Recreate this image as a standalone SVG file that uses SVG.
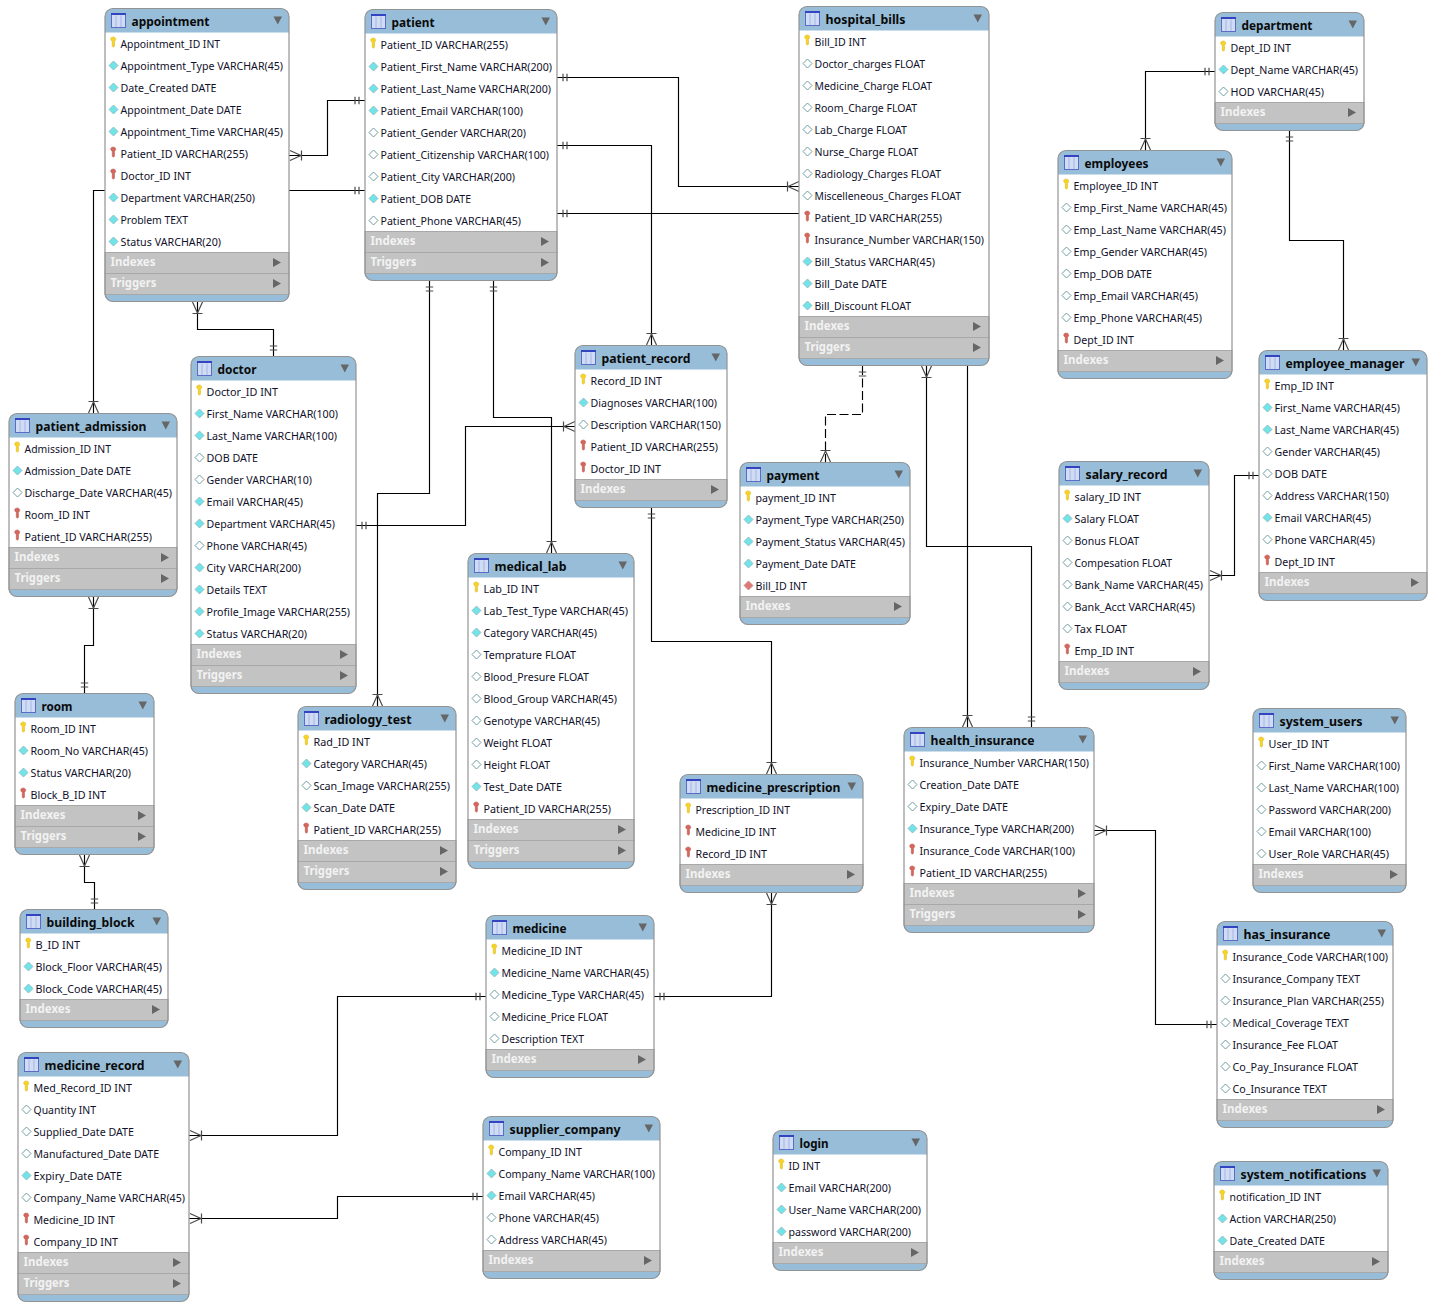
<svg xmlns="http://www.w3.org/2000/svg" width="1439" height="1315" viewBox="0 0 1439 1315">
<style>
text{font-family:"Noto Sans","Liberation Sans",sans-serif;transform:translate(0,-1px)}
.o{fill:#97bdd8;stroke:none}
.w{fill:#fff}
.s{fill:#c3c3c3;stroke:#a8a8a8;stroke-width:1}
.b{fill:none;stroke:#939393;stroke-width:1.2}
.t{font-size:13px;font-weight:700;fill:#0a0a0a}
.r{font-size:11px;fill:#10102a}
.x{font-size:12px;font-weight:700;fill:#f2f2f2}
.l{fill:none;stroke:#000;stroke-width:1.15}
.d{stroke-dasharray:9 3.5}
.m{fill:none;stroke:#4a4a4a;stroke-width:1.2}
</style>
<defs>
<g id="k"><path transform="scale(.95,.85)" d="M-2.500-4.500a2.800 2.800 0 0 1 5.400 0c0 1.800-.9 2.600-1.300 3.100V4.500L.3 5.500-.8 4.500V-1.400C-1.400-2-2.500-2.800-2.500-4.500Z" fill="#f6d426" stroke="#d9ae10" stroke-width=".5"/></g>
<g id="f"><path transform="scale(.95,.85)" d="M-2.500-4.500a2.800 2.800 0 0 1 5.400 0c0 1.800-.9 2.600-1.300 3.100V4.500L.3 5.500-.8 4.500V-1.400C-1.400-2-2.500-2.800-2.500-4.500Z" fill="#d4665c" stroke="#b5524a" stroke-width=".5"/></g>
<path id="c" d="M0-4.500 4.500 0 0 4.500-4.500 0Z" fill="#70e4e6" stroke="#8fb3c0" stroke-width=".8"/>
<path id="h" d="M0-4.500 4.500 0 0 4.500-4.500 0Z" fill="#fff" stroke="#6f9ea3" stroke-width="1"/>
<path id="e" d="M0-4.500 4.500 0 0 4.500-4.500 0Z" fill="#de7a74" stroke="#b98a88" stroke-width=".8"/>
<g id="i"><rect x="6.500" y="5.500" width="14" height="13.500" fill="#cfdcf3" stroke="#5a6cc8"/><rect x="6" y="4.500" width="15" height="2" fill="#3444c0"/><path d="M11 7V18.500M16 7V18.500" stroke="#a4b4e4"/></g>
<path id="da" d="M-15.500 8H-7L-11.200 16Z" fill="#666"/>
<path id="ra" d="M-16-4.500-8 0-16 4.500Z" fill="#666"/>
<path id="cr" d="M0-5 11 0M0 5 11 0M11.500-5V5" class="m"/>
<path id="ii" d="M6-3.700V3.700M10-3.700V3.700" class="m"/>
</defs>

<g id="connectors">
<path class="l" d="M289 155.500H327.500V100.500H365"/><use href="#cr" transform="translate(290,155.500)"/><use href="#ii" transform="translate(365,100.500) rotate(180)"/>
<path class="l" d="M365 190.500H93.500V413"/><use href="#ii" transform="translate(365,190.500) rotate(180)"/><use href="#cr" transform="translate(93.500,413) rotate(-90)"/>
<path class="l" d="M197.500 302V329.500H273.500V356"/><use href="#cr" transform="translate(197.500,302) rotate(90)"/><use href="#ii" transform="translate(273.500,356) rotate(-90)"/>
<path class="l" d="M557 77.500H678.500V186.500H799"/><use href="#ii" transform="translate(557,77.500)"/><use href="#cr" transform="translate(799,186.500) rotate(180)"/>
<path class="l" d="M557 145.500H651.500V345"/><use href="#ii" transform="translate(557,145.500)"/><use href="#cr" transform="translate(651.500,345) rotate(-90)"/>
<path class="l" d="M557 213.500H967.500V727"/><use href="#ii" transform="translate(557,213.500)"/><use href="#cr" transform="translate(967.500,727) rotate(-90)"/>
<path class="l" d="M926.500 366V546.500H1031.500V727"/><use href="#cr" transform="translate(926.500,366) rotate(90)"/><use href="#ii" transform="translate(1031.500,727) rotate(-90)"/>
<path class="l" d="M429.500 281V493.500H377.500V706"/><use href="#ii" transform="translate(429.500,281) rotate(90)"/><use href="#cr" transform="translate(377.500,706) rotate(-90)"/>
<path class="l" d="M493.500 281V417.500H551.500V553"/><use href="#ii" transform="translate(493.500,281) rotate(90)"/><use href="#cr" transform="translate(551.500,553) rotate(-90)"/>
<path class="l" d="M356 525.500H465.500V426.500H575"/><use href="#ii" transform="translate(356,525.500)"/><use href="#cr" transform="translate(575,426.500) rotate(180)"/>
<path class="l d" d="M862.500 366V414.500H825.500V462"/><use href="#ii" transform="translate(862.500,366) rotate(90)"/><use href="#cr" transform="translate(825.500,462) rotate(-90)"/>
<path class="l" d="M1215 71.500H1145.500V150"/><use href="#ii" transform="translate(1215,71.500) rotate(180)"/><use href="#cr" transform="translate(1145.500,150) rotate(-90)"/>
<path class="l" d="M1289.500 131V240.500H1343.500V350"/><use href="#ii" transform="translate(1289.500,131) rotate(90)"/><use href="#cr" transform="translate(1343.500,350) rotate(-90)"/>
<path class="l" d="M1259 475.500H1234.500V575.500H1209"/><use href="#ii" transform="translate(1259,475.500) rotate(180)"/><use href="#cr" transform="translate(1210,575.500)"/>
<path class="l" d="M93.500 597V645.500H84.500V693"/><use href="#cr" transform="translate(93.500,597) rotate(90)"/><use href="#ii" transform="translate(84.500,693) rotate(-90)"/>
<path class="l" d="M84.500 855V882.500H94.500V909"/><use href="#cr" transform="translate(84.500,855) rotate(90)"/><use href="#ii" transform="translate(94.500,909) rotate(-90)"/>
<path class="l" d="M651.500 508V641.500H771.500V774"/><use href="#ii" transform="translate(651.500,508) rotate(90)"/><use href="#cr" transform="translate(771.500,774) rotate(-90)"/>
<path class="l" d="M771.500 893V996.500H654"/><use href="#cr" transform="translate(771.500,893) rotate(90)"/><use href="#ii" transform="translate(654,996.500)"/>
<path class="l" d="M486 996.500H337.500V1135.500H189"/><use href="#ii" transform="translate(486,996.500) rotate(180)"/><use href="#cr" transform="translate(190,1135.500)"/>
<path class="l" d="M483 1196.500H337.500V1218.500H189"/><use href="#ii" transform="translate(483,1196.500) rotate(180)"/><use href="#cr" transform="translate(190,1218.500)"/>
<path class="l" d="M1094 830.500H1155.500V1024.500H1217"/><use href="#cr" transform="translate(1095,830.500)"/><use href="#ii" transform="translate(1217,1024.500) rotate(180)"/>
</g>

<g id="appointment" transform="translate(105,8.500)"><rect class="o" width="184" height="293" rx="8"/><rect class="w" y="24" width="184" height="220"/><rect class="s" y="244" width="184" height="21"/><rect class="s" y="265" width="184" height="21"/><rect class="b" width="184" height="293" rx="8"/><use href="#i"/><use href="#da" x="184"/><text class="t" x="26.500" y="18" textLength="78" lengthAdjust="spacingAndGlyphs">appointment</text>
<use href="#k" x="8" y="34"/><text class="r" x="15.500" y="40" textLength="99.500" lengthAdjust="spacingAndGlyphs">Appointment_ID INT</text>
<use href="#c" x="8.500" y="57"/><text class="r" x="15.500" y="62" textLength="162.500" lengthAdjust="spacingAndGlyphs">Appointment_Type VARCHAR(45)</text>
<use href="#c" x="8.500" y="79"/><text class="r" x="15.500" y="84" textLength="96" lengthAdjust="spacingAndGlyphs">Date_Created DATE</text>
<use href="#c" x="8.500" y="101"/><text class="r" x="15.500" y="106" textLength="121" lengthAdjust="spacingAndGlyphs">Appointment_Date DATE</text>
<use href="#c" x="8.500" y="123"/><text class="r" x="15.500" y="128" textLength="162.500" lengthAdjust="spacingAndGlyphs">Appointment_Time VARCHAR(45)</text>
<use href="#f" x="8" y="144"/><text class="r" x="15.500" y="150" textLength="127.500" lengthAdjust="spacingAndGlyphs">Patient_ID VARCHAR(255)</text>
<use href="#f" x="8" y="166"/><text class="r" x="15.500" y="172" textLength="70.500" lengthAdjust="spacingAndGlyphs">Doctor_ID INT</text>
<use href="#c" x="8.500" y="189"/><text class="r" x="15.500" y="194" textLength="134.500" lengthAdjust="spacingAndGlyphs">Department VARCHAR(250)</text>
<use href="#c" x="8.500" y="211"/><text class="r" x="15.500" y="216" textLength="67.500" lengthAdjust="spacingAndGlyphs">Problem TEXT</text>
<use href="#c" x="8.500" y="233"/><text class="r" x="15.500" y="238" textLength="100.500" lengthAdjust="spacingAndGlyphs">Status VARCHAR(20)</text>
<text class="x" x="5.500" y="258" textLength="45" lengthAdjust="spacingAndGlyphs">Indexes</text><use href="#ra" x="184" y="254"/><text class="x" x="5.500" y="279" textLength="46" lengthAdjust="spacingAndGlyphs">Triggers</text><use href="#ra" x="184" y="275"/></g>

<g id="patient" transform="translate(365,9.500)"><rect class="o" width="192" height="271" rx="8"/><rect class="w" y="24" width="192" height="198"/><rect class="s" y="222" width="192" height="21"/><rect class="s" y="243" width="192" height="21"/><rect class="b" width="192" height="271" rx="8"/><use href="#i"/><use href="#da" x="192"/><text class="t" x="26.500" y="18" textLength="43" lengthAdjust="spacingAndGlyphs">patient</text>
<use href="#k" x="8" y="34"/><text class="r" x="15.500" y="40" textLength="127.500" lengthAdjust="spacingAndGlyphs">Patient_ID VARCHAR(255)</text>
<use href="#c" x="8.500" y="57"/><text class="r" x="15.500" y="62" textLength="171.500" lengthAdjust="spacingAndGlyphs">Patient_First_Name VARCHAR(200)</text>
<use href="#c" x="8.500" y="79"/><text class="r" x="15.500" y="84" textLength="170.500" lengthAdjust="spacingAndGlyphs">Patient_Last_Name VARCHAR(200)</text>
<use href="#c" x="8.500" y="101"/><text class="r" x="15.500" y="106" textLength="142.500" lengthAdjust="spacingAndGlyphs">Patient_Email VARCHAR(100)</text>
<use href="#h" x="8.500" y="123"/><text class="r" x="15.500" y="128" textLength="145.500" lengthAdjust="spacingAndGlyphs">Patient_Gender VARCHAR(20)</text>
<use href="#h" x="8.500" y="145"/><text class="r" x="15.500" y="150" textLength="168.500" lengthAdjust="spacingAndGlyphs">Patient_Citizenship VARCHAR(100)</text>
<use href="#h" x="8.500" y="167"/><text class="r" x="15.500" y="172" textLength="134.500" lengthAdjust="spacingAndGlyphs">Patient_City VARCHAR(200)</text>
<use href="#c" x="8.500" y="189"/><text class="r" x="15.500" y="194" textLength="90.500" lengthAdjust="spacingAndGlyphs">Patient_DOB DATE</text>
<use href="#h" x="8.500" y="211"/><text class="r" x="15.500" y="216" textLength="140.500" lengthAdjust="spacingAndGlyphs">Patient_Phone VARCHAR(45)</text>
<text class="x" x="5.500" y="236" textLength="45" lengthAdjust="spacingAndGlyphs">Indexes</text><use href="#ra" x="192" y="232"/><text class="x" x="5.500" y="257" textLength="46" lengthAdjust="spacingAndGlyphs">Triggers</text><use href="#ra" x="192" y="253"/></g>

<g id="hospital_bills" transform="translate(799,6.500)"><rect class="o" width="190" height="359" rx="8"/><rect class="w" y="24" width="190" height="286"/><rect class="s" y="310" width="190" height="21"/><rect class="s" y="331" width="190" height="21"/><rect class="b" width="190" height="359" rx="8"/><use href="#i"/><use href="#da" x="190"/><text class="t" x="26.500" y="18" textLength="80" lengthAdjust="spacingAndGlyphs">hospital_bills</text>
<use href="#k" x="8" y="34"/><text class="r" x="15.500" y="40" textLength="51.500" lengthAdjust="spacingAndGlyphs">Bill_ID INT</text>
<use href="#h" x="8.500" y="57"/><text class="r" x="15.500" y="62" textLength="110.500" lengthAdjust="spacingAndGlyphs">Doctor_charges FLOAT</text>
<use href="#h" x="8.500" y="79"/><text class="r" x="15.500" y="84" textLength="117.500" lengthAdjust="spacingAndGlyphs">Medicine_Charge FLOAT</text>
<use href="#h" x="8.500" y="101"/><text class="r" x="15.500" y="106" textLength="102.500" lengthAdjust="spacingAndGlyphs">Room_Charge FLOAT</text>
<use href="#h" x="8.500" y="123"/><text class="r" x="15.500" y="128" textLength="92.500" lengthAdjust="spacingAndGlyphs">Lab_Charge FLOAT</text>
<use href="#h" x="8.500" y="145"/><text class="r" x="15.500" y="150" textLength="103.500" lengthAdjust="spacingAndGlyphs">Nurse_Charge FLOAT</text>
<use href="#h" x="8.500" y="167"/><text class="r" x="15.500" y="172" textLength="126.500" lengthAdjust="spacingAndGlyphs">Radiology_Charges FLOAT</text>
<use href="#h" x="8.500" y="189"/><text class="r" x="15.500" y="194" textLength="146.500" lengthAdjust="spacingAndGlyphs">Miscelleneous_Charges FLOAT</text>
<use href="#f" x="8" y="210"/><text class="r" x="15.500" y="216" textLength="127.500" lengthAdjust="spacingAndGlyphs">Patient_ID VARCHAR(255)</text>
<use href="#f" x="8" y="232"/><text class="r" x="15.500" y="238" textLength="169.500" lengthAdjust="spacingAndGlyphs">Insurance_Number VARCHAR(150)</text>
<use href="#c" x="8.500" y="255"/><text class="r" x="15.500" y="260" textLength="120.500" lengthAdjust="spacingAndGlyphs">Bill_Status VARCHAR(45)</text>
<use href="#c" x="8.500" y="277"/><text class="r" x="15.500" y="282" textLength="72.500" lengthAdjust="spacingAndGlyphs">Bill_Date DATE</text>
<use href="#c" x="8.500" y="299"/><text class="r" x="15.500" y="304" textLength="96.500" lengthAdjust="spacingAndGlyphs">Bill_Discount FLOAT</text>
<text class="x" x="5.500" y="324" textLength="45" lengthAdjust="spacingAndGlyphs">Indexes</text><use href="#ra" x="190" y="320"/><text class="x" x="5.500" y="345" textLength="46" lengthAdjust="spacingAndGlyphs">Triggers</text><use href="#ra" x="190" y="341"/></g>

<g id="department" transform="translate(1215,12.500)"><rect class="o" width="149" height="118" rx="8"/><rect class="w" y="24" width="149" height="66"/><rect class="s" y="90" width="149" height="21"/><rect class="b" width="149" height="118" rx="8"/><use href="#i"/><use href="#da" x="149"/><text class="t" x="26.500" y="18" textLength="71" lengthAdjust="spacingAndGlyphs">department</text>
<use href="#k" x="8" y="34"/><text class="r" x="15.500" y="40" textLength="60.500" lengthAdjust="spacingAndGlyphs">Dept_ID INT</text>
<use href="#c" x="8.500" y="57"/><text class="r" x="15.500" y="62" textLength="127.500" lengthAdjust="spacingAndGlyphs">Dept_Name VARCHAR(45)</text>
<use href="#h" x="8.500" y="79"/><text class="r" x="15.500" y="84" textLength="93.500" lengthAdjust="spacingAndGlyphs">HOD VARCHAR(45)</text>
<text class="x" x="5.500" y="104" textLength="45" lengthAdjust="spacingAndGlyphs">Indexes</text><use href="#ra" x="149" y="100"/></g>

<g id="employees" transform="translate(1058,150.500)"><rect class="o" width="174" height="228" rx="8"/><rect class="w" y="24" width="174" height="176"/><rect class="s" y="200" width="174" height="21"/><rect class="b" width="174" height="228" rx="8"/><use href="#i"/><use href="#da" x="174"/><text class="t" x="26.500" y="18" textLength="64" lengthAdjust="spacingAndGlyphs">employees</text>
<use href="#k" x="8" y="34"/><text class="r" x="15.500" y="40" textLength="84.500" lengthAdjust="spacingAndGlyphs">Employee_ID INT</text>
<use href="#h" x="8.500" y="57"/><text class="r" x="15.500" y="62" textLength="153.500" lengthAdjust="spacingAndGlyphs">Emp_First_Name VARCHAR(45)</text>
<use href="#h" x="8.500" y="79"/><text class="r" x="15.500" y="84" textLength="152.500" lengthAdjust="spacingAndGlyphs">Emp_Last_Name VARCHAR(45)</text>
<use href="#h" x="8.500" y="101"/><text class="r" x="15.500" y="106" textLength="133.500" lengthAdjust="spacingAndGlyphs">Emp_Gender VARCHAR(45)</text>
<use href="#h" x="8.500" y="123"/><text class="r" x="15.500" y="128" textLength="78.500" lengthAdjust="spacingAndGlyphs">Emp_DOB DATE</text>
<use href="#h" x="8.500" y="145"/><text class="r" x="15.500" y="150" textLength="124.500" lengthAdjust="spacingAndGlyphs">Emp_Email VARCHAR(45)</text>
<use href="#h" x="8.500" y="167"/><text class="r" x="15.500" y="172" textLength="128.500" lengthAdjust="spacingAndGlyphs">Emp_Phone VARCHAR(45)</text>
<use href="#f" x="8" y="188"/><text class="r" x="15.500" y="194" textLength="60.500" lengthAdjust="spacingAndGlyphs">Dept_ID INT</text>
<text class="x" x="5.500" y="214" textLength="45" lengthAdjust="spacingAndGlyphs">Indexes</text><use href="#ra" x="174" y="210"/></g>

<g id="employee_manager" transform="translate(1259,350.500)"><rect class="o" width="168" height="250" rx="8"/><rect class="w" y="24" width="168" height="198"/><rect class="s" y="222" width="168" height="21"/><rect class="b" width="168" height="250" rx="8"/><use href="#i"/><use href="#da" x="168"/><text class="t" x="26.500" y="18" textLength="119" lengthAdjust="spacingAndGlyphs">employee_manager</text>
<use href="#k" x="8" y="34"/><text class="r" x="15.500" y="40" textLength="59.500" lengthAdjust="spacingAndGlyphs">Emp_ID INT</text>
<use href="#c" x="8.500" y="57"/><text class="r" x="15.500" y="62" textLength="125.500" lengthAdjust="spacingAndGlyphs">First_Name VARCHAR(45)</text>
<use href="#c" x="8.500" y="79"/><text class="r" x="15.500" y="84" textLength="124.500" lengthAdjust="spacingAndGlyphs">Last_Name VARCHAR(45)</text>
<use href="#h" x="8.500" y="101"/><text class="r" x="15.500" y="106" textLength="105.500" lengthAdjust="spacingAndGlyphs">Gender VARCHAR(45)</text>
<use href="#h" x="8.500" y="123"/><text class="r" x="15.500" y="128" textLength="52.500" lengthAdjust="spacingAndGlyphs">DOB DATE</text>
<use href="#h" x="8.500" y="145"/><text class="r" x="15.500" y="150" textLength="114.500" lengthAdjust="spacingAndGlyphs">Address VARCHAR(150)</text>
<use href="#c" x="8.500" y="167"/><text class="r" x="15.500" y="172" textLength="96.500" lengthAdjust="spacingAndGlyphs">Email VARCHAR(45)</text>
<use href="#h" x="8.500" y="189"/><text class="r" x="15.500" y="194" textLength="100.500" lengthAdjust="spacingAndGlyphs">Phone VARCHAR(45)</text>
<use href="#f" x="8" y="210"/><text class="r" x="15.500" y="216" textLength="60.500" lengthAdjust="spacingAndGlyphs">Dept_ID INT</text>
<text class="x" x="5.500" y="236" textLength="45" lengthAdjust="spacingAndGlyphs">Indexes</text><use href="#ra" x="168" y="232"/></g>

<g id="salary_record" transform="translate(1059,461.500)"><rect class="o" width="150" height="228" rx="8"/><rect class="w" y="24" width="150" height="176"/><rect class="s" y="200" width="150" height="21"/><rect class="b" width="150" height="228" rx="8"/><use href="#i"/><use href="#da" x="150"/><text class="t" x="26.500" y="18" textLength="82" lengthAdjust="spacingAndGlyphs">salary_record</text>
<use href="#k" x="8" y="34"/><text class="r" x="15.500" y="40" textLength="66.500" lengthAdjust="spacingAndGlyphs">salary_ID INT</text>
<use href="#c" x="8.500" y="57"/><text class="r" x="15.500" y="62" textLength="64.500" lengthAdjust="spacingAndGlyphs">Salary FLOAT</text>
<use href="#h" x="8.500" y="79"/><text class="r" x="15.500" y="84" textLength="64.500" lengthAdjust="spacingAndGlyphs">Bonus FLOAT</text>
<use href="#h" x="8.500" y="101"/><text class="r" x="15.500" y="106" textLength="97.500" lengthAdjust="spacingAndGlyphs">Compesation FLOAT</text>
<use href="#h" x="8.500" y="123"/><text class="r" x="15.500" y="128" textLength="128.500" lengthAdjust="spacingAndGlyphs">Bank_Name VARCHAR(45)</text>
<use href="#h" x="8.500" y="145"/><text class="r" x="15.500" y="150" textLength="120.500" lengthAdjust="spacingAndGlyphs">Bank_Acct VARCHAR(45)</text>
<use href="#h" x="8.500" y="167"/><text class="r" x="15.500" y="172" textLength="52.500" lengthAdjust="spacingAndGlyphs">Tax FLOAT</text>
<use href="#f" x="8" y="188"/><text class="r" x="15.500" y="194" textLength="59.500" lengthAdjust="spacingAndGlyphs">Emp_ID INT</text>
<text class="x" x="5.500" y="214" textLength="45" lengthAdjust="spacingAndGlyphs">Indexes</text><use href="#ra" x="150" y="210"/></g>

<g id="patient_record" transform="translate(575,345.500)"><rect class="o" width="152" height="162" rx="8"/><rect class="w" y="24" width="152" height="110"/><rect class="s" y="134" width="152" height="21"/><rect class="b" width="152" height="162" rx="8"/><use href="#i"/><use href="#da" x="152"/><text class="t" x="26.500" y="18" textLength="89" lengthAdjust="spacingAndGlyphs">patient_record</text>
<use href="#k" x="8" y="34"/><text class="r" x="15.500" y="40" textLength="71.500" lengthAdjust="spacingAndGlyphs">Record_ID INT</text>
<use href="#c" x="8.500" y="57"/><text class="r" x="15.500" y="62" textLength="126.500" lengthAdjust="spacingAndGlyphs">Diagnoses VARCHAR(100)</text>
<use href="#h" x="8.500" y="79"/><text class="r" x="15.500" y="84" textLength="130.500" lengthAdjust="spacingAndGlyphs">Description VARCHAR(150)</text>
<use href="#f" x="8" y="100"/><text class="r" x="15.500" y="106" textLength="127.500" lengthAdjust="spacingAndGlyphs">Patient_ID VARCHAR(255)</text>
<use href="#f" x="8" y="122"/><text class="r" x="15.500" y="128" textLength="70.500" lengthAdjust="spacingAndGlyphs">Doctor_ID INT</text>
<text class="x" x="5.500" y="148" textLength="45" lengthAdjust="spacingAndGlyphs">Indexes</text><use href="#ra" x="152" y="144"/></g>

<g id="payment" transform="translate(740,462.500)"><rect class="o" width="170" height="162" rx="8"/><rect class="w" y="24" width="170" height="110"/><rect class="s" y="134" width="170" height="21"/><rect class="b" width="170" height="162" rx="8"/><use href="#i"/><use href="#da" x="170"/><text class="t" x="26.500" y="18" textLength="53" lengthAdjust="spacingAndGlyphs">payment</text>
<use href="#k" x="8" y="34"/><text class="r" x="15.500" y="40" textLength="80.500" lengthAdjust="spacingAndGlyphs">payment_ID INT</text>
<use href="#c" x="8.500" y="57"/><text class="r" x="15.500" y="62" textLength="148.500" lengthAdjust="spacingAndGlyphs">Payment_Type VARCHAR(250)</text>
<use href="#c" x="8.500" y="79"/><text class="r" x="15.500" y="84" textLength="149.500" lengthAdjust="spacingAndGlyphs">Payment_Status VARCHAR(45)</text>
<use href="#c" x="8.500" y="101"/><text class="r" x="15.500" y="106" textLength="100.500" lengthAdjust="spacingAndGlyphs">Payment_Date DATE</text>
<use href="#e" x="8.500" y="123"/><text class="r" x="15.500" y="128" textLength="51.500" lengthAdjust="spacingAndGlyphs">Bill_ID INT</text>
<text class="x" x="5.500" y="148" textLength="45" lengthAdjust="spacingAndGlyphs">Indexes</text><use href="#ra" x="170" y="144"/></g>

<g id="doctor" transform="translate(191,356.500)"><rect class="o" width="165" height="337" rx="8"/><rect class="w" y="24" width="165" height="264"/><rect class="s" y="288" width="165" height="21"/><rect class="s" y="309" width="165" height="21"/><rect class="b" width="165" height="337" rx="8"/><use href="#i"/><use href="#da" x="165"/><text class="t" x="26.500" y="18" textLength="39" lengthAdjust="spacingAndGlyphs">doctor</text>
<use href="#k" x="8" y="34"/><text class="r" x="15.500" y="40" textLength="71.500" lengthAdjust="spacingAndGlyphs">Doctor_ID INT</text>
<use href="#c" x="8.500" y="57"/><text class="r" x="15.500" y="62" textLength="131.500" lengthAdjust="spacingAndGlyphs">First_Name VARCHAR(100)</text>
<use href="#c" x="8.500" y="79"/><text class="r" x="15.500" y="84" textLength="130.500" lengthAdjust="spacingAndGlyphs">Last_Name VARCHAR(100)</text>
<use href="#h" x="8.500" y="101"/><text class="r" x="15.500" y="106" textLength="51.500" lengthAdjust="spacingAndGlyphs">DOB DATE</text>
<use href="#h" x="8.500" y="123"/><text class="r" x="15.500" y="128" textLength="105.500" lengthAdjust="spacingAndGlyphs">Gender VARCHAR(10)</text>
<use href="#c" x="8.500" y="145"/><text class="r" x="15.500" y="150" textLength="96.500" lengthAdjust="spacingAndGlyphs">Email VARCHAR(45)</text>
<use href="#c" x="8.500" y="167"/><text class="r" x="15.500" y="172" textLength="128.500" lengthAdjust="spacingAndGlyphs">Department VARCHAR(45)</text>
<use href="#h" x="8.500" y="189"/><text class="r" x="15.500" y="194" textLength="100.500" lengthAdjust="spacingAndGlyphs">Phone VARCHAR(45)</text>
<use href="#c" x="8.500" y="211"/><text class="r" x="15.500" y="216" textLength="94.500" lengthAdjust="spacingAndGlyphs">City VARCHAR(200)</text>
<use href="#c" x="8.500" y="233"/><text class="r" x="15.500" y="238" textLength="60.500" lengthAdjust="spacingAndGlyphs">Details TEXT</text>
<use href="#c" x="8.500" y="255"/><text class="r" x="15.500" y="260" textLength="143.500" lengthAdjust="spacingAndGlyphs">Profile_Image VARCHAR(255)</text>
<use href="#c" x="8.500" y="277"/><text class="r" x="15.500" y="282" textLength="100.500" lengthAdjust="spacingAndGlyphs">Status VARCHAR(20)</text>
<text class="x" x="5.500" y="302" textLength="45" lengthAdjust="spacingAndGlyphs">Indexes</text><use href="#ra" x="165" y="298"/><text class="x" x="5.500" y="323" textLength="46" lengthAdjust="spacingAndGlyphs">Triggers</text><use href="#ra" x="165" y="319"/></g>

<g id="patient_admission" transform="translate(9,413.500)"><rect class="o" width="168" height="183" rx="8"/><rect class="w" y="24" width="168" height="110"/><rect class="s" y="134" width="168" height="21"/><rect class="s" y="155" width="168" height="21"/><rect class="b" width="168" height="183" rx="8"/><use href="#i"/><use href="#da" x="168"/><text class="t" x="26.500" y="18" textLength="111" lengthAdjust="spacingAndGlyphs">patient_admission</text>
<use href="#k" x="8" y="34"/><text class="r" x="15.500" y="40" textLength="86.500" lengthAdjust="spacingAndGlyphs">Admission_ID INT</text>
<use href="#c" x="8.500" y="57"/><text class="r" x="15.500" y="62" textLength="106.500" lengthAdjust="spacingAndGlyphs">Admission_Date DATE</text>
<use href="#h" x="8.500" y="79"/><text class="r" x="15.500" y="84" textLength="147.500" lengthAdjust="spacingAndGlyphs">Discharge_Date VARCHAR(45)</text>
<use href="#f" x="8" y="100"/><text class="r" x="15.500" y="106" textLength="65.500" lengthAdjust="spacingAndGlyphs">Room_ID INT</text>
<use href="#f" x="8" y="122"/><text class="r" x="15.500" y="128" textLength="127.500" lengthAdjust="spacingAndGlyphs">Patient_ID VARCHAR(255)</text>
<text class="x" x="5.500" y="148" textLength="45" lengthAdjust="spacingAndGlyphs">Indexes</text><use href="#ra" x="168" y="144"/><text class="x" x="5.500" y="169" textLength="46" lengthAdjust="spacingAndGlyphs">Triggers</text><use href="#ra" x="168" y="165"/></g>

<g id="medical_lab" transform="translate(468,553.500)"><rect class="o" width="166" height="315" rx="8"/><rect class="w" y="24" width="166" height="242"/><rect class="s" y="266" width="166" height="21"/><rect class="s" y="287" width="166" height="21"/><rect class="b" width="166" height="315" rx="8"/><use href="#i"/><use href="#da" x="166"/><text class="t" x="26.500" y="18" textLength="72" lengthAdjust="spacingAndGlyphs">medical_lab</text>
<use href="#k" x="8" y="34"/><text class="r" x="15.500" y="40" textLength="55.500" lengthAdjust="spacingAndGlyphs">Lab_ID INT</text>
<use href="#c" x="8.500" y="57"/><text class="r" x="15.500" y="62" textLength="144.500" lengthAdjust="spacingAndGlyphs">Lab_Test_Type VARCHAR(45)</text>
<use href="#c" x="8.500" y="79"/><text class="r" x="15.500" y="84" textLength="113.500" lengthAdjust="spacingAndGlyphs">Category VARCHAR(45)</text>
<use href="#h" x="8.500" y="101"/><text class="r" x="15.500" y="106" textLength="92.500" lengthAdjust="spacingAndGlyphs">Temprature FLOAT</text>
<use href="#h" x="8.500" y="123"/><text class="r" x="15.500" y="128" textLength="105.500" lengthAdjust="spacingAndGlyphs">Blood_Presure FLOAT</text>
<use href="#h" x="8.500" y="145"/><text class="r" x="15.500" y="150" textLength="133.500" lengthAdjust="spacingAndGlyphs">Blood_Group VARCHAR(45)</text>
<use href="#h" x="8.500" y="167"/><text class="r" x="15.500" y="172" textLength="116.500" lengthAdjust="spacingAndGlyphs">Genotype VARCHAR(45)</text>
<use href="#h" x="8.500" y="189"/><text class="r" x="15.500" y="194" textLength="68.500" lengthAdjust="spacingAndGlyphs">Weight FLOAT</text>
<use href="#h" x="8.500" y="211"/><text class="r" x="15.500" y="216" textLength="66.500" lengthAdjust="spacingAndGlyphs">Height FLOAT</text>
<use href="#c" x="8.500" y="233"/><text class="r" x="15.500" y="238" textLength="78.500" lengthAdjust="spacingAndGlyphs">Test_Date DATE</text>
<use href="#f" x="8" y="254"/><text class="r" x="15.500" y="260" textLength="127.500" lengthAdjust="spacingAndGlyphs">Patient_ID VARCHAR(255)</text>
<text class="x" x="5.500" y="280" textLength="45" lengthAdjust="spacingAndGlyphs">Indexes</text><use href="#ra" x="166" y="276"/><text class="x" x="5.500" y="301" textLength="46" lengthAdjust="spacingAndGlyphs">Triggers</text><use href="#ra" x="166" y="297"/></g>

<g id="radiology_test" transform="translate(298,706.500)"><rect class="o" width="158" height="183" rx="8"/><rect class="w" y="24" width="158" height="110"/><rect class="s" y="134" width="158" height="21"/><rect class="s" y="155" width="158" height="21"/><rect class="b" width="158" height="183" rx="8"/><use href="#i"/><use href="#da" x="158"/><text class="t" x="26.500" y="18" textLength="87" lengthAdjust="spacingAndGlyphs">radiology_test</text>
<use href="#k" x="8" y="34"/><text class="r" x="15.500" y="40" textLength="56.500" lengthAdjust="spacingAndGlyphs">Rad_ID INT</text>
<use href="#c" x="8.500" y="57"/><text class="r" x="15.500" y="62" textLength="113.500" lengthAdjust="spacingAndGlyphs">Category VARCHAR(45)</text>
<use href="#h" x="8.500" y="79"/><text class="r" x="15.500" y="84" textLength="136.500" lengthAdjust="spacingAndGlyphs">Scan_Image VARCHAR(255)</text>
<use href="#c" x="8.500" y="101"/><text class="r" x="15.500" y="106" textLength="81.500" lengthAdjust="spacingAndGlyphs">Scan_Date DATE</text>
<use href="#f" x="8" y="122"/><text class="r" x="15.500" y="128" textLength="127.500" lengthAdjust="spacingAndGlyphs">Patient_ID VARCHAR(255)</text>
<text class="x" x="5.500" y="148" textLength="45" lengthAdjust="spacingAndGlyphs">Indexes</text><use href="#ra" x="158" y="144"/><text class="x" x="5.500" y="169" textLength="46" lengthAdjust="spacingAndGlyphs">Triggers</text><use href="#ra" x="158" y="165"/></g>

<g id="room" transform="translate(15,693.500)"><rect class="o" width="139" height="161" rx="8"/><rect class="w" y="24" width="139" height="88"/><rect class="s" y="112" width="139" height="21"/><rect class="s" y="133" width="139" height="21"/><rect class="b" width="139" height="161" rx="8"/><use href="#i"/><use href="#da" x="139"/><text class="t" x="26.500" y="18" textLength="31" lengthAdjust="spacingAndGlyphs">room</text>
<use href="#k" x="8" y="34"/><text class="r" x="15.500" y="40" textLength="65.500" lengthAdjust="spacingAndGlyphs">Room_ID INT</text>
<use href="#c" x="8.500" y="57"/><text class="r" x="15.500" y="62" textLength="117.500" lengthAdjust="spacingAndGlyphs">Room_No VARCHAR(45)</text>
<use href="#c" x="8.500" y="79"/><text class="r" x="15.500" y="84" textLength="100.500" lengthAdjust="spacingAndGlyphs">Status VARCHAR(20)</text>
<use href="#f" x="8" y="100"/><text class="r" x="15.500" y="106" textLength="75.500" lengthAdjust="spacingAndGlyphs">Block_B_ID INT</text>
<text class="x" x="5.500" y="126" textLength="45" lengthAdjust="spacingAndGlyphs">Indexes</text><use href="#ra" x="139" y="122"/><text class="x" x="5.500" y="147" textLength="46" lengthAdjust="spacingAndGlyphs">Triggers</text><use href="#ra" x="139" y="143"/></g>

<g id="building_block" transform="translate(20,909.500)"><rect class="o" width="148" height="118" rx="8"/><rect class="w" y="24" width="148" height="66"/><rect class="s" y="90" width="148" height="21"/><rect class="b" width="148" height="118" rx="8"/><use href="#i"/><use href="#da" x="148"/><text class="t" x="26.500" y="18" textLength="88" lengthAdjust="spacingAndGlyphs">building_block</text>
<use href="#k" x="8" y="34"/><text class="r" x="15.500" y="40" textLength="44.500" lengthAdjust="spacingAndGlyphs">B_ID INT</text>
<use href="#c" x="8.500" y="57"/><text class="r" x="15.500" y="62" textLength="126.500" lengthAdjust="spacingAndGlyphs">Block_Floor VARCHAR(45)</text>
<use href="#c" x="8.500" y="79"/><text class="r" x="15.500" y="84" textLength="126.500" lengthAdjust="spacingAndGlyphs">Block_Code VARCHAR(45)</text>
<text class="x" x="5.500" y="104" textLength="45" lengthAdjust="spacingAndGlyphs">Indexes</text><use href="#ra" x="148" y="100"/></g>

<g id="medicine_prescription" transform="translate(680,774.500)"><rect class="o" width="183" height="118" rx="8"/><rect class="w" y="24" width="183" height="66"/><rect class="s" y="90" width="183" height="21"/><rect class="b" width="183" height="118" rx="8"/><use href="#i"/><use href="#da" x="183"/><text class="t" x="26.500" y="18" textLength="134" lengthAdjust="spacingAndGlyphs">medicine_prescription</text>
<use href="#k" x="8" y="34"/><text class="r" x="15.500" y="40" textLength="94.500" lengthAdjust="spacingAndGlyphs">Prescription_ID INT</text>
<use href="#f" x="8" y="56"/><text class="r" x="15.500" y="62" textLength="80.500" lengthAdjust="spacingAndGlyphs">Medicine_ID INT</text>
<use href="#f" x="8" y="78"/><text class="r" x="15.500" y="84" textLength="71.500" lengthAdjust="spacingAndGlyphs">Record_ID INT</text>
<text class="x" x="5.500" y="104" textLength="45" lengthAdjust="spacingAndGlyphs">Indexes</text><use href="#ra" x="183" y="100"/></g>

<g id="health_insurance" transform="translate(904,727.500)"><rect class="o" width="190" height="205" rx="8"/><rect class="w" y="24" width="190" height="132"/><rect class="s" y="156" width="190" height="21"/><rect class="s" y="177" width="190" height="21"/><rect class="b" width="190" height="205" rx="8"/><use href="#i"/><use href="#da" x="190"/><text class="t" x="26.500" y="18" textLength="104" lengthAdjust="spacingAndGlyphs">health_insurance</text>
<use href="#k" x="8" y="34"/><text class="r" x="15.500" y="40" textLength="169.500" lengthAdjust="spacingAndGlyphs">Insurance_Number VARCHAR(150)</text>
<use href="#h" x="8.500" y="57"/><text class="r" x="15.500" y="62" textLength="99.500" lengthAdjust="spacingAndGlyphs">Creation_Date DATE</text>
<use href="#h" x="8.500" y="79"/><text class="r" x="15.500" y="84" textLength="88.500" lengthAdjust="spacingAndGlyphs">Expiry_Date DATE</text>
<use href="#c" x="8.500" y="101"/><text class="r" x="15.500" y="106" textLength="154.500" lengthAdjust="spacingAndGlyphs">Insurance_Type VARCHAR(200)</text>
<use href="#f" x="8" y="122"/><text class="r" x="15.500" y="128" textLength="155.500" lengthAdjust="spacingAndGlyphs">Insurance_Code VARCHAR(100)</text>
<use href="#f" x="8" y="144"/><text class="r" x="15.500" y="150" textLength="127.500" lengthAdjust="spacingAndGlyphs">Patient_ID VARCHAR(255)</text>
<text class="x" x="5.500" y="170" textLength="45" lengthAdjust="spacingAndGlyphs">Indexes</text><use href="#ra" x="190" y="166"/><text class="x" x="5.500" y="191" textLength="46" lengthAdjust="spacingAndGlyphs">Triggers</text><use href="#ra" x="190" y="187"/></g>

<g id="system_users" transform="translate(1253,708.500)"><rect class="o" width="153" height="184" rx="8"/><rect class="w" y="24" width="153" height="132"/><rect class="s" y="156" width="153" height="21"/><rect class="b" width="153" height="184" rx="8"/><use href="#i"/><use href="#da" x="153"/><text class="t" x="26.500" y="18" textLength="83" lengthAdjust="spacingAndGlyphs">system_users</text>
<use href="#k" x="8" y="34"/><text class="r" x="15.500" y="40" textLength="60.500" lengthAdjust="spacingAndGlyphs">User_ID INT</text>
<use href="#h" x="8.500" y="57"/><text class="r" x="15.500" y="62" textLength="131.500" lengthAdjust="spacingAndGlyphs">First_Name VARCHAR(100)</text>
<use href="#h" x="8.500" y="79"/><text class="r" x="15.500" y="84" textLength="130.500" lengthAdjust="spacingAndGlyphs">Last_Name VARCHAR(100)</text>
<use href="#h" x="8.500" y="101"/><text class="r" x="15.500" y="106" textLength="122.500" lengthAdjust="spacingAndGlyphs">Password VARCHAR(200)</text>
<use href="#h" x="8.500" y="123"/><text class="r" x="15.500" y="128" textLength="102.500" lengthAdjust="spacingAndGlyphs">Email VARCHAR(100)</text>
<use href="#h" x="8.500" y="145"/><text class="r" x="15.500" y="150" textLength="120.500" lengthAdjust="spacingAndGlyphs">User_Role VARCHAR(45)</text>
<text class="x" x="5.500" y="170" textLength="45" lengthAdjust="spacingAndGlyphs">Indexes</text><use href="#ra" x="153" y="166"/></g>

<g id="has_insurance" transform="translate(1217,921.500)"><rect class="o" width="176" height="206" rx="8"/><rect class="w" y="24" width="176" height="154"/><rect class="s" y="178" width="176" height="21"/><rect class="b" width="176" height="206" rx="8"/><use href="#i"/><use href="#da" x="176"/><text class="t" x="26.500" y="18" textLength="87" lengthAdjust="spacingAndGlyphs">has_insurance</text>
<use href="#k" x="8" y="34"/><text class="r" x="15.500" y="40" textLength="155.500" lengthAdjust="spacingAndGlyphs">Insurance_Code VARCHAR(100)</text>
<use href="#h" x="8.500" y="57"/><text class="r" x="15.500" y="62" textLength="127.500" lengthAdjust="spacingAndGlyphs">Insurance_Company TEXT</text>
<use href="#h" x="8.500" y="79"/><text class="r" x="15.500" y="84" textLength="151.500" lengthAdjust="spacingAndGlyphs">Insurance_Plan VARCHAR(255)</text>
<use href="#h" x="8.500" y="101"/><text class="r" x="15.500" y="106" textLength="116.500" lengthAdjust="spacingAndGlyphs">Medical_Coverage TEXT</text>
<use href="#h" x="8.500" y="123"/><text class="r" x="15.500" y="128" textLength="105.500" lengthAdjust="spacingAndGlyphs">Insurance_Fee FLOAT</text>
<use href="#h" x="8.500" y="145"/><text class="r" x="15.500" y="150" textLength="125.500" lengthAdjust="spacingAndGlyphs">Co_Pay_Insurance FLOAT</text>
<use href="#h" x="8.500" y="167"/><text class="r" x="15.500" y="172" textLength="94.500" lengthAdjust="spacingAndGlyphs">Co_Insurance TEXT</text>
<text class="x" x="5.500" y="192" textLength="45" lengthAdjust="spacingAndGlyphs">Indexes</text><use href="#ra" x="176" y="188"/></g>

<g id="medicine" transform="translate(486,915.500)"><rect class="o" width="168" height="162" rx="8"/><rect class="w" y="24" width="168" height="110"/><rect class="s" y="134" width="168" height="21"/><rect class="b" width="168" height="162" rx="8"/><use href="#i"/><use href="#da" x="168"/><text class="t" x="26.500" y="18" textLength="54" lengthAdjust="spacingAndGlyphs">medicine</text>
<use href="#k" x="8" y="34"/><text class="r" x="15.500" y="40" textLength="80.500" lengthAdjust="spacingAndGlyphs">Medicine_ID INT</text>
<use href="#c" x="8.500" y="57"/><text class="r" x="15.500" y="62" textLength="147.500" lengthAdjust="spacingAndGlyphs">Medicine_Name VARCHAR(45)</text>
<use href="#h" x="8.500" y="79"/><text class="r" x="15.500" y="84" textLength="142.500" lengthAdjust="spacingAndGlyphs">Medicine_Type VARCHAR(45)</text>
<use href="#h" x="8.500" y="101"/><text class="r" x="15.500" y="106" textLength="106.500" lengthAdjust="spacingAndGlyphs">Medicine_Price FLOAT</text>
<use href="#h" x="8.500" y="123"/><text class="r" x="15.500" y="128" textLength="82.500" lengthAdjust="spacingAndGlyphs">Description TEXT</text>
<text class="x" x="5.500" y="148" textLength="45" lengthAdjust="spacingAndGlyphs">Indexes</text><use href="#ra" x="168" y="144"/></g>

<g id="medicine_record" transform="translate(18,1052.500)"><rect class="o" width="171" height="249" rx="8"/><rect class="w" y="24" width="171" height="176"/><rect class="s" y="200" width="171" height="21"/><rect class="s" y="221" width="171" height="21"/><rect class="b" width="171" height="249" rx="8"/><use href="#i"/><use href="#da" x="171"/><text class="t" x="26.500" y="18" textLength="100" lengthAdjust="spacingAndGlyphs">medicine_record</text>
<use href="#k" x="8" y="34"/><text class="r" x="15.500" y="40" textLength="98.500" lengthAdjust="spacingAndGlyphs">Med_Record_ID INT</text>
<use href="#h" x="8.500" y="57"/><text class="r" x="15.500" y="62" textLength="62.500" lengthAdjust="spacingAndGlyphs">Quantity INT</text>
<use href="#h" x="8.500" y="79"/><text class="r" x="15.500" y="84" textLength="100.500" lengthAdjust="spacingAndGlyphs">Supplied_Date DATE</text>
<use href="#h" x="8.500" y="101"/><text class="r" x="15.500" y="106" textLength="125.500" lengthAdjust="spacingAndGlyphs">Manufactured_Date DATE</text>
<use href="#c" x="8.500" y="123"/><text class="r" x="15.500" y="128" textLength="88.500" lengthAdjust="spacingAndGlyphs">Expiry_Date DATE</text>
<use href="#h" x="8.500" y="145"/><text class="r" x="15.500" y="150" textLength="151.500" lengthAdjust="spacingAndGlyphs">Company_Name VARCHAR(45)</text>
<use href="#f" x="8" y="166"/><text class="r" x="15.500" y="172" textLength="81.500" lengthAdjust="spacingAndGlyphs">Medicine_ID INT</text>
<use href="#f" x="8" y="188"/><text class="r" x="15.500" y="194" textLength="84.500" lengthAdjust="spacingAndGlyphs">Company_ID INT</text>
<text class="x" x="5.500" y="214" textLength="45" lengthAdjust="spacingAndGlyphs">Indexes</text><use href="#ra" x="171" y="210"/><text class="x" x="5.500" y="235" textLength="46" lengthAdjust="spacingAndGlyphs">Triggers</text><use href="#ra" x="171" y="231"/></g>

<g id="supplier_company" transform="translate(483,1116.500)"><rect class="o" width="177" height="162" rx="8"/><rect class="w" y="24" width="177" height="110"/><rect class="s" y="134" width="177" height="21"/><rect class="b" width="177" height="162" rx="8"/><use href="#i"/><use href="#da" x="177"/><text class="t" x="26.500" y="18" textLength="111" lengthAdjust="spacingAndGlyphs">supplier_company</text>
<use href="#k" x="8" y="34"/><text class="r" x="15.500" y="40" textLength="83.500" lengthAdjust="spacingAndGlyphs">Company_ID INT</text>
<use href="#c" x="8.500" y="57"/><text class="r" x="15.500" y="62" textLength="156.500" lengthAdjust="spacingAndGlyphs">Company_Name VARCHAR(100)</text>
<use href="#c" x="8.500" y="79"/><text class="r" x="15.500" y="84" textLength="96.500" lengthAdjust="spacingAndGlyphs">Email VARCHAR(45)</text>
<use href="#h" x="8.500" y="101"/><text class="r" x="15.500" y="106" textLength="100.500" lengthAdjust="spacingAndGlyphs">Phone VARCHAR(45)</text>
<use href="#h" x="8.500" y="123"/><text class="r" x="15.500" y="128" textLength="108.500" lengthAdjust="spacingAndGlyphs">Address VARCHAR(45)</text>
<text class="x" x="5.500" y="148" textLength="45" lengthAdjust="spacingAndGlyphs">Indexes</text><use href="#ra" x="177" y="144"/></g>

<g id="login" transform="translate(773,1130.500)"><rect class="o" width="154" height="140" rx="8"/><rect class="w" y="24" width="154" height="88"/><rect class="s" y="112" width="154" height="21"/><rect class="b" width="154" height="140" rx="8"/><use href="#i"/><use href="#da" x="154"/><text class="t" x="26.500" y="18" textLength="29" lengthAdjust="spacingAndGlyphs">login</text>
<use href="#k" x="8" y="34"/><text class="r" x="15.500" y="40" textLength="31.500" lengthAdjust="spacingAndGlyphs">ID INT</text>
<use href="#c" x="8.500" y="57"/><text class="r" x="15.500" y="62" textLength="102.500" lengthAdjust="spacingAndGlyphs">Email VARCHAR(200)</text>
<use href="#c" x="8.500" y="79"/><text class="r" x="15.500" y="84" textLength="132.500" lengthAdjust="spacingAndGlyphs">User_Name VARCHAR(200)</text>
<use href="#c" x="8.500" y="101"/><text class="r" x="15.500" y="106" textLength="122.500" lengthAdjust="spacingAndGlyphs">password VARCHAR(200)</text>
<text class="x" x="5.500" y="126" textLength="45" lengthAdjust="spacingAndGlyphs">Indexes</text><use href="#ra" x="154" y="122"/></g>

<g id="system_notifications" transform="translate(1214,1161.500)"><rect class="o" width="174" height="118" rx="8"/><rect class="w" y="24" width="174" height="66"/><rect class="s" y="90" width="174" height="21"/><rect class="b" width="174" height="118" rx="8"/><use href="#i"/><use href="#da" x="174"/><text class="t" x="26.500" y="18" textLength="126" lengthAdjust="spacingAndGlyphs">system_notifications</text>
<use href="#k" x="8" y="34"/><text class="r" x="15.500" y="40" textLength="91.500" lengthAdjust="spacingAndGlyphs">notification_ID INT</text>
<use href="#c" x="8.500" y="57"/><text class="r" x="15.500" y="62" textLength="106.500" lengthAdjust="spacingAndGlyphs">Action VARCHAR(250)</text>
<use href="#c" x="8.500" y="79"/><text class="r" x="15.500" y="84" textLength="95.500" lengthAdjust="spacingAndGlyphs">Date_Created DATE</text>
<text class="x" x="5.500" y="104" textLength="45" lengthAdjust="spacingAndGlyphs">Indexes</text><use href="#ra" x="174" y="100"/></g>
</svg>
